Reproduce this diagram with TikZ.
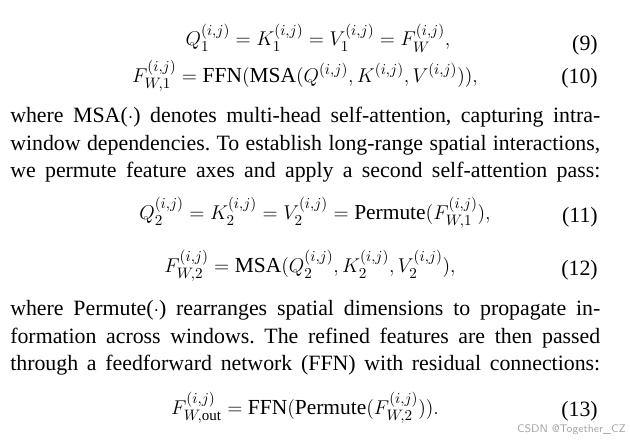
\documentclass[tikz,border=0pt]{standalone}
\usepackage{amsmath}
\usepackage{fontspec}
\setmainfont{Liberation Serif}
\begin{document}
\frenchspacing
\begin{tikzpicture}[x=0.0254cm,y=-0.0254cm,
  txt/.style={anchor=west,inner sep=0pt,text width=14.99cm,align=justify,font=\fontsize{15.8}{18}\selectfont},
  eq/.style={inner sep=0pt,font=\fontsize{15.5}{18}\selectfont},
  num/.style={anchor=east,inner sep=0pt,font=\fontsize{15.8}{18}\selectfont}]
\useasboundingbox (0,0) rectangle (630,442);
\node[eq] (e9) at (318,38) {$Q_1^{(i,j)}=K_1^{(i,j)}=V_1^{(i,j)}=F_W^{(i,j)},$};
\node[num] (n9) at (598,45) {(9)};
\node[eq] (e10) at (305,76) {$F_{W,1}^{(i,j)}=\text{FFN}(\text{MSA}(Q^{(i,j)},K^{(i,j)},V^{(i,j)})),$};
\node[num] (n10) at (598,78) {(10)};
\node[txt] (t1) at (10,117) {{\parfillskip=0pt where MSA($\cdot$) denotes multi-head self-attention, capturing intra-\par}};
\node[txt] (t2) at (10,145) {{\parfillskip=0pt window dependencies. To establish long-range spatial interactions,\par}};
\node[txt] (t3) at (10,172) {{\parfillskip=0pt we permute feature axes and apply a second self-attention pass:\par}};
\node[eq] (e11) at (315,213) {$Q_2^{(i,j)}=K_2^{(i,j)}=V_2^{(i,j)}=\text{Permute}(F_{W,1}^{(i,j)}),$};
\node[num] (n11) at (598,217) {(11)};
\node[eq] (e12) at (310,266) {$F_{W,2}^{(i,j)}=\text{MSA}(Q_2^{(i,j)},K_2^{(i,j)},V_2^{(i,j)}),$};
\node[num] (n12) at (598,270) {(12)};
\node[txt] (t4) at (10,310) {{\parfillskip=0pt where Permute($\cdot$) rearranges spatial dimensions to propagate in-\par}};
\node[txt] (t5) at (10,338) {{\parfillskip=0pt formation across windows. The refined features are then passed\par}};
\node[txt] (t6) at (10,365) {{\parfillskip=0pt through a feedforward network (FFN) with residual connections:\par}};
\node[eq] (e13) at (305,408) {$F_{W,\text{out}}^{(i,j)}=\text{FFN}(\text{Permute}(F_{W,2}^{(i,j)})).$};
\node[num] (n13) at (598,411) {(13)};
\node[anchor=east,inner sep=0pt,text=gray!70,font=\sffamily\fontsize{8}{9}\selectfont] (wm) at (626,430) {CSDN @Together\_CZ};
\end{tikzpicture}
\end{document}
